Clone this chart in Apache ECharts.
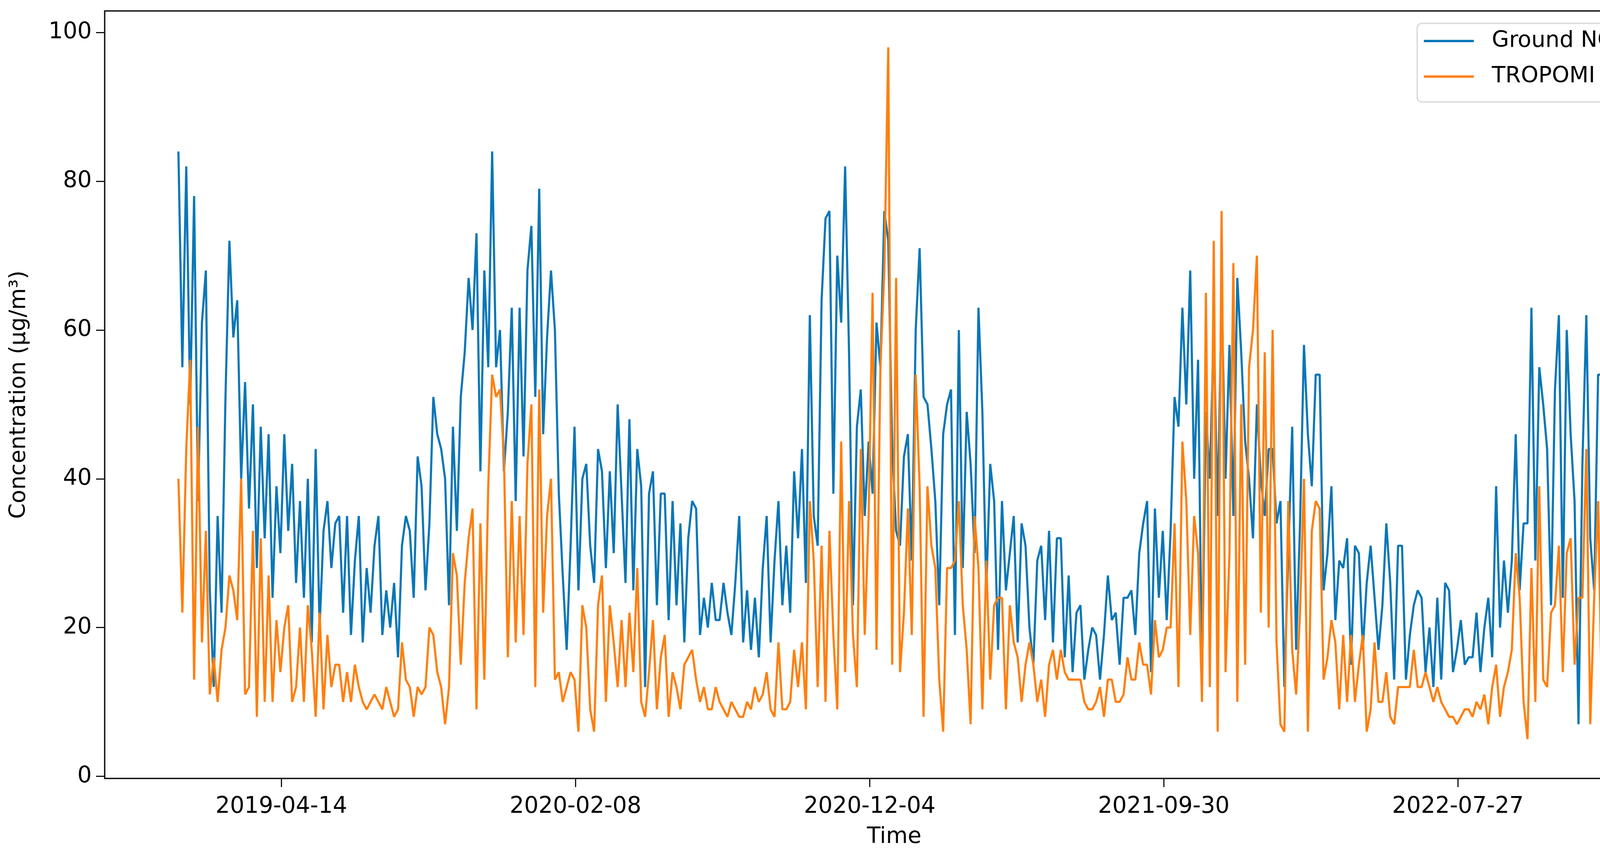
<!DOCTYPE html>
<html>
<head>
<meta charset="utf-8">
<script src="https://cdn.jsdelivr.net/npm/echarts@6/dist/echarts.min.js"></script>
<style>
html,body{margin:0;padding:0;background:#fff;overflow:hidden;}
#chart{width:4338px;height:2189px;}
</style>
</head>
<body>
<div id="chart"></div>
<script>
// ---- data (one sample every 4 days) ----
const seriesNames = ['Ground NO2', 'TROPOMI NO2'];
const firstDate = '2018-12-30';
const stepDays = 4;

const groundNO2 = [
  84,55,82,50,78,37,61,68,25,12,35,22,51,72,59,64,40,53,36,50,28,47,32,46,24,39,30,46,33,42,26,37,24,40,18,44,20,33,37,28,34,
  35,22,35,19,29,35,18,28,22,31,35,19,25,20,26,16,31,35,33,24,43,39,25,34,51,46,44,40,23,47,33,51,57,67,60,73,41,68,55,84,55,
  60,41,49,63,37,63,43,68,74,51,79,46,59,68,60,38,27,17,31,47,25,40,42,31,26,44,41,28,41,30,50,38,26,48,25,44,39,12,38,41,23,38,
  38,21,37,23,34,18,32,37,36,19,24,20,26,21,21,26,22,19,26,35,18,25,17,24,16,28,35,18,29,37,23,31,22,41,32,44,26,62,35,31,64,75,
  76,38,70,61,82,57,23,47,52,35,45,38,61,55,76,72,44,33,31,43,46,29,60,71,51,50,44,37,23,46,50,52,19,60,28,49,42,30,63,49,25,42,
  37,17,37,25,30,35,18,34,31,20,15,29,31,21,33,18,32,32,16,27,14,22,23,13,17,20,19,13,19,27,21,22,15,24,24,25,19,30,34,37,14,
  36,24,33,21,33,51,47,63,50,68,40,56,13,49,40,60,35,65,40,58,35,67,57,45,40,32,50,40,35,44,44,34,37,12,30,47,17,34,58,46,39,54,
  54,25,30,39,21,29,28,32,15,31,30,17,26,31,24,17,23,34,26,13,31,31,13,19,23,25,24,14,20,12,24,13,26,25,14,17,21,15,16,16,22,14,
  20,24,16,39,20,29,22,29,46,25,34,34,63,29,55,50,44,23,52,62,24,60,46,37,7,42,62,32,25,54,54,54,56
];

const tropomiNO2 = [
  40,22,44,56,13,47,18,33,11,16,10,17,20,27,25,21,40,11,12,33,8,32,10,27,10,21,14,20,23,10,12,20,10,23,17,8,22,9,19,12,15,
  15,10,14,10,15,12,10,9,10,11,10,9,12,10,8,9,18,13,12,8,12,11,12,20,19,14,12,7,12,30,27,15,26,32,36,9,34,13,39,54,51,
  52,43,16,37,18,35,19,42,50,12,52,22,35,40,13,14,10,12,14,13,6,23,20,9,6,23,27,10,23,18,12,21,12,22,14,28,10,8,14,21,9,16,
  19,8,14,12,9,15,16,17,13,10,12,9,9,12,10,9,8,10,9,8,8,10,9,12,10,11,14,9,8,18,9,9,10,17,12,18,9,37,29,12,31,10,
  33,19,9,45,14,37,19,12,44,19,35,65,17,55,68,98,15,67,14,22,36,19,54,39,8,39,31,28,13,6,28,28,29,37,23,17,7,35,28,9,29,13,
  23,24,24,9,23,18,16,10,15,18,15,10,13,8,15,17,13,17,14,13,13,13,13,10,9,9,10,12,8,13,13,10,10,11,16,13,13,18,15,15,11,
  21,16,17,20,20,34,12,45,37,19,35,30,10,65,12,72,6,76,14,30,69,10,50,15,55,60,70,22,57,20,60,18,7,6,37,17,11,22,40,6,33,37,
  36,13,16,21,18,9,19,10,19,10,15,19,6,9,18,10,10,14,8,7,12,12,12,12,17,12,12,14,12,10,12,10,9,8,8,7,8,9,9,8,10,9,
  11,7,12,15,8,12,14,17,30,24,10,5,28,10,39,13,12,22,23,31,14,30,32,15,24,24,44,7,24,37,9,39,48
];

const xTickLabels = ['2019-04-14', '2020-02-08', '2020-12-04', '2021-09-30', '2022-07-27'];
const yTickValues = [0, 20, 40, 60, 80, 100];

// ---- helpers ----
const DAY = 86400000;
const BASE = Date.parse('2019-01-01T00:00:00Z');
const toDay = s => (Date.parse(s + 'T00:00:00Z') - BASE) / DAY;
const firstDay = toDay(firstDate);
const toPairs = arr => arr.map((v, i) => [firstDay + i * stepDays, v]);
const xTickDays = xTickLabels.map(toDay);
const dayToLabel = d => new Date(BASE + Math.round(d) * DAY).toISOString().slice(0, 10);

const FONT = 'DejaVu Sans';
const INK = '#111111';
const BLUE = '#0a77b7';
const ORANGE = '#ff7f0e';

const chart = echarts.init(document.getElementById('chart'), null, {renderer: 'canvas'});
chart.setOption({
  animation: false,
  backgroundColor: '#ffffff',
  grid: {
    left: 268, right: 28, top: 28, bottom: 196,
    show: true, borderColor: INK, borderWidth: 3.5, backgroundColor: 'transparent'
  },
  legend: {
    orient: 'vertical',
    left: 3628, top: 60,
    icon: 'rect',
    itemWidth: 128, itemHeight: 6, itemGap: 25,
    padding: [12, 35, 32, 17],
    backgroundColor: '#ffffff',
    borderColor: '#d6d6d6', borderWidth: 3, borderRadius: 12,
    textStyle: {fontFamily: FONT, fontSize: 57, color: '#000', lineHeight: 66, padding: [0, 0, 0, 41]},
    data: seriesNames
  },
  xAxis: {
    type: 'value',
    min: -77.2, max: 1533.2,
    name: 'Time', nameLocation: 'middle', nameGap: 122,
    nameTextStyle: {fontFamily: FONT, fontSize: 57, color: '#000'},
    axisLine: {show: false, onZero: false},
    splitLine: {show: false},
    axisTick: {show: true, customValues: xTickDays, length: 22, lineStyle: {color: INK, width: 3}},
    axisLabel: {customValues: xTickDays, formatter: v => dayToLabel(v), margin: 44,
      fontFamily: FONT, fontSize: 58, color: '#000'}
  },
  yAxis: {
    type: 'value',
    min: -0.29, max: 102.9,
    name: 'Concentration (μg/m³)', nameLocation: 'middle', nameGap: 190,
    nameTextStyle: {fontFamily: FONT, fontSize: 57, color: '#000'},
    axisLine: {show: false, onZero: false},
    splitLine: {show: false},
    axisTick: {show: true, customValues: yTickValues, length: 22, lineStyle: {color: INK, width: 3}},
    axisLabel: {customValues: yTickValues, margin: 33, fontFamily: FONT, fontSize: 58, color: '#000'}
  },
  series: [
    {
      name: seriesNames[0], type: 'line', data: toPairs(groundNO2),
      showSymbol: false, symbol: 'none',
      lineStyle: {width: 5.5, color: BLUE}, itemStyle: {color: BLUE}
    },
    {
      name: seriesNames[1], type: 'line', data: toPairs(tropomiNO2),
      showSymbol: false, symbol: 'none',
      lineStyle: {width: 5.5, color: ORANGE}, itemStyle: {color: ORANGE}
    }
  ]
});
</script>
</body>
</html>
